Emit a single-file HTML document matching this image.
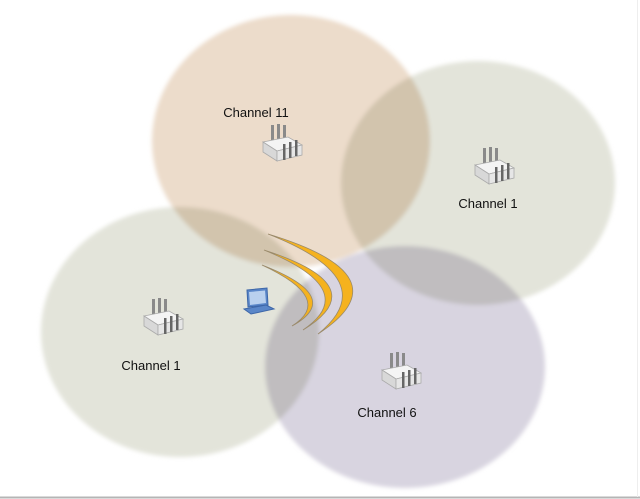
<!DOCTYPE html>
<html><head><meta charset="utf-8"><style>
html,body{margin:0;padding:0;background:#fff;}
body{width:640px;height:499px;overflow:hidden;position:relative;}
svg{position:absolute;left:0;top:0;}
text{font-family:"Liberation Sans",sans-serif;font-size:13px;fill:#111;}
</style></head><body>
<svg width="640" height="499" viewBox="0 0 640 499">
<defs>
<filter id="b" x="-10%" y="-10%" width="120%" height="120%"><feGaussianBlur stdDeviation="2"/></filter>
<g id="r">
<rect x="9" y="0" width="3" height="17" fill="#8a8a8a"/>
<rect x="15" y="-1" width="3" height="16" fill="#8a8a8a"/>
<rect x="21" y="0" width="3" height="15" fill="#8a8a8a"/>
<polygon points="1,17 26,12 40,20 15,26" fill="#f4f4f4" stroke="#aaa" stroke-width="0.8"/>
<polygon points="1,17 15,26 15,36 1,27" fill="#d8d8d8" stroke="#aaa" stroke-width="0.8"/>
<polygon points="15,26 40,20 40,30 15,36" fill="#e6e6e6" stroke="#aaa" stroke-width="0.8"/>
<rect x="21" y="19" width="2.5" height="16" fill="#666"/>
<rect x="27" y="17" width="2.5" height="16" fill="#666"/>
<rect x="33" y="15" width="2.5" height="16" fill="#666"/>
</g>
</defs>
<g filter="url(#b)" style="isolation:isolate">
<ellipse cx="291" cy="141" rx="139" ry="126" fill="#ecdccb" style="mix-blend-mode:multiply"/>
<ellipse cx="478" cy="183" rx="137" ry="122" fill="#e3e4da" style="mix-blend-mode:multiply"/>
<ellipse cx="180" cy="332" rx="139" ry="125" fill="#e3e4da" style="mix-blend-mode:multiply"/>
<ellipse cx="405" cy="367" rx="140" ry="121" fill="#d8d4e0" style="mix-blend-mode:multiply"/>
</g>
<line x1="0" y1="497.5" x2="640" y2="497.5" stroke="#b5b5b5" stroke-width="2"/>
<line x1="637.5" y1="0" x2="637.5" y2="497" stroke="#eee" stroke-width="1"/>
<use href="#r" x="262" y="125"/>
<use href="#r" x="474" y="148"/>
<use href="#r" x="143" y="299"/>
<use href="#r" x="381" y="353"/>
<text x="256" y="117" text-anchor="middle">Channel 11</text>
<text x="488" y="208" text-anchor="middle">Channel 1</text>
<text x="151" y="370" text-anchor="middle">Channel 1</text>
<text x="387" y="417" text-anchor="middle">Channel 6</text>
<g fill="#f5b21e" stroke="#9a8a6a" stroke-width="0.8">
<path d="M268,234 Q407,276 318,334 Q385,280 268,234Z"/>
<path d="M264,250 Q376,286 303,330 Q362,290 264,250Z"/>
<path d="M262,265 Q345,297 292,326 Q335,299 262,265Z"/>
</g>
<g>
<polygon points="247,290 267,288 268,305 248,307" fill="#5a86c8" stroke="#3d66a8" stroke-width="1"/>
<polygon points="249,292 265,290.5 266,303 250,305" fill="#b9d0ee"/>
<polygon points="244,309 266,305 274,309 251,314" fill="#5a86c8" stroke="#3d66a8" stroke-width="1"/>
</g>
</svg>
</body></html>
